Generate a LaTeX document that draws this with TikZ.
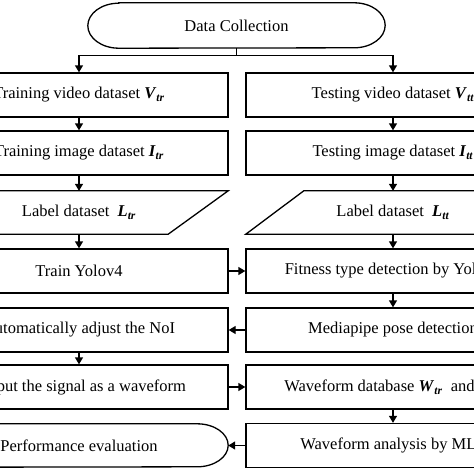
\documentclass[tikz,border=0pt]{standalone}
\usepackage{fontspec}
\setmainfont{Liberation Serif}
\usetikzlibrary{arrows.meta}
\newcommand{\bi}[2]{\textbf{\textit{#1}}\textsubscript{\textbf{\textit{#2}}}}
\begin{document}
\begin{tikzpicture}[x=1pt,y=-1pt,
  every node/.style={font=\fontsize{16.5}{19}\selectfont, inner sep=0pt},
  lbox/.style={draw, line width=1.3pt, minimum width=298pt, minimum height=44pt},
  rbox/.style={draw, line width=1.3pt, minimum width=294pt, minimum height=44pt},
  lpar/.style={minimum width=298pt, minimum height=43pt},
  rpar/.style={minimum width=294pt, minimum height=43pt},
  arr/.style={line width=1.3pt, -{Triangle[length=7pt,width=8pt]}},
  ln/.style={line width=1.3pt}]
\useasboundingbox (0,0) rectangle (474,474);
\clip (0,0) rectangle (474,474);
% top terminator
\node[minimum width=297pt, minimum height=45pt] (dc) at (236.5,25.5) {Data Collection};
% left column
\node[lbox] (tv) at (79,95) {Training video dataset \bi{V}{tr}};
\node[lbox] (ti) at (79,153) {Training image dataset \bi{I}{tr}};
\node[lpar] (tl) at (79,212.5) {Label dataset \ \bi{L}{tr}};
\node[lbox] (ty) at (79,271) {Train Yolov4};
\node[lbox] (ad) at (79,330) {Automatically adjust the NoI};
\node[lbox] (ow) at (79,387) {Output the signal as a waveform};
\node[minimum width=298pt, minimum height=43pt] (pe) at (79,445.5) {Performance evaluation};
% right column
\node[rbox] (sv) at (393,95) {Testing video dataset \bi{V}{tt}};
\node[rbox] (si) at (393,153) {Testing image dataset \bi{I}{tt}};
\node[rpar] (sl) at (393,212.5) {Label dataset \ \bi{L}{tt}};
\node[rbox] (fd) at (393,271) {Fitness type detection by Yolov4};
\node[rbox] (mp) at (393,330) {Mediapipe pose detection};
\node[rbox] (wd) at (393,387) {Waveform database \bi{W}{tr} \ and \bi{W}{tt}};
\node[rbox] (wa) at (393,445.5) {Waveform analysis by MLP};
% terminator outlines
\draw[ln] ([xshift=31pt]dc.north west) -- ([xshift=-31pt]dc.north east)
  arc[start angle=90, end angle=-90, x radius=31pt, y radius=22.5pt]
  -- ([xshift=31pt]dc.south west)
  arc[start angle=270, end angle=90, x radius=31pt, y radius=22.5pt] -- cycle;
\draw[ln] ([xshift=31pt]pe.north west) -- ([xshift=-31pt]pe.north east)
  arc[start angle=90, end angle=-90, x radius=31pt, y radius=21.5pt]
  -- ([xshift=31pt]pe.south west)
  arc[start angle=270, end angle=90, x radius=31pt, y radius=21.5pt] -- cycle;
% parallelogram outlines
\draw[ln] ([xshift=60pt]tl.north west) -- (tl.north east) -- ([xshift=-60pt]tl.south east) -- (tl.south west) -- cycle;
\draw[ln] ([xshift=58pt]sl.north west) -- (sl.north east) -- ([xshift=-58pt]sl.south east) -- (sl.south west) -- cycle;
% connectors
\draw[ln] (dc.south) -- ++(0,7) coordinate (split);
\draw[arr] (split) -| (tv.north);
\draw[arr] (split) -| (sv.north);
\draw[arr] (tv) -- (ti);
\draw[arr] (ti) -- (tl);
\draw[arr] (tl) -- (ty);
\draw[arr] (ad) -- (ow);
\draw[arr] (sv) -- (si);
\draw[arr] (si) -- (sl);
\draw[arr] (sl) -- (fd);
\draw[arr] (fd) -- (mp);
\draw[arr] (wd) -- (wa);
\draw[arr] (ty.east) -- (fd.west);
\draw[arr] (mp.west) -- (ad.east);
\draw[arr] (ow.east) -- (wd.west);
\draw[arr] (wa.west) -- (pe.east);
\end{tikzpicture}
\end{document}
